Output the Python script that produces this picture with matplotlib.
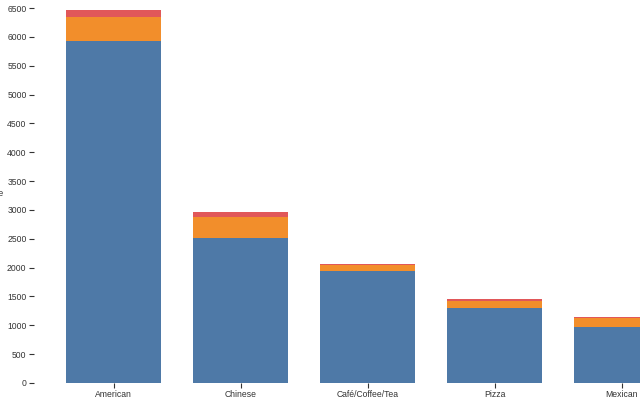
import matplotlib
matplotlib.use("Agg")
import matplotlib.pyplot as plt
import numpy as np

categories = ["American", "Chinese", "Café/Coffee/Tea", "Pizza", "Mexican"]
grade_a = [5920, 2520, 1950, 1295, 965]
grade_b = [420, 350, 95, 125, 155]
grade_c = [120, 100, 25, 30, 30]
y_ticks = list(range(0, 7000, 500))

colors = ["#4e79a7", "#f28e2b", "#e15759"]

plt.rcParams["font.family"] = ["Liberation Sans", "DejaVu Sans"]

fig = plt.figure(figsize=(6.4, 4.0), dpi=100)
ax = fig.add_axes([50 / 640, 17 / 400, 635 / 640, 375 / 400])

x = np.arange(len(categories))
a = np.array(grade_a)
b = np.array(grade_b)
c = np.array(grade_c)
ax.bar(x, a, width=0.75, color=colors[0])
ax.bar(x, b, width=0.75, bottom=a, color=colors[1])
ax.bar(x, c, width=0.75, bottom=a + b, color=colors[2])

ax.set_xlim(-0.5, len(categories) - 0.5)
ax.set_ylim(0, 6500)
ax.set_xticks(x)
ax.set_xticklabels(categories)
ax.set_yticks(y_ticks)
ax.set_yticklabels([str(t) for t in y_ticks])

for s in ax.spines.values():
    s.set_visible(False)
ax.spines["left"].set_position(("outward", 11.5))

fs = 6.2
ax.tick_params(axis="y", length=3.6, width=0.8, pad=1.8, labelsize=fs,
               color="#333333", labelcolor="#333333")
ax.tick_params(axis="x", length=3.6, width=0.8, pad=1.5, labelsize=fs,
               color="#333333", labelcolor="#333333")

fig.text(4 / 640, 1 - 194 / 400, "Grade", ha="right", va="center",
         fontsize=fs, color="#333333")

fig.savefig("out.png", dpi=100)
